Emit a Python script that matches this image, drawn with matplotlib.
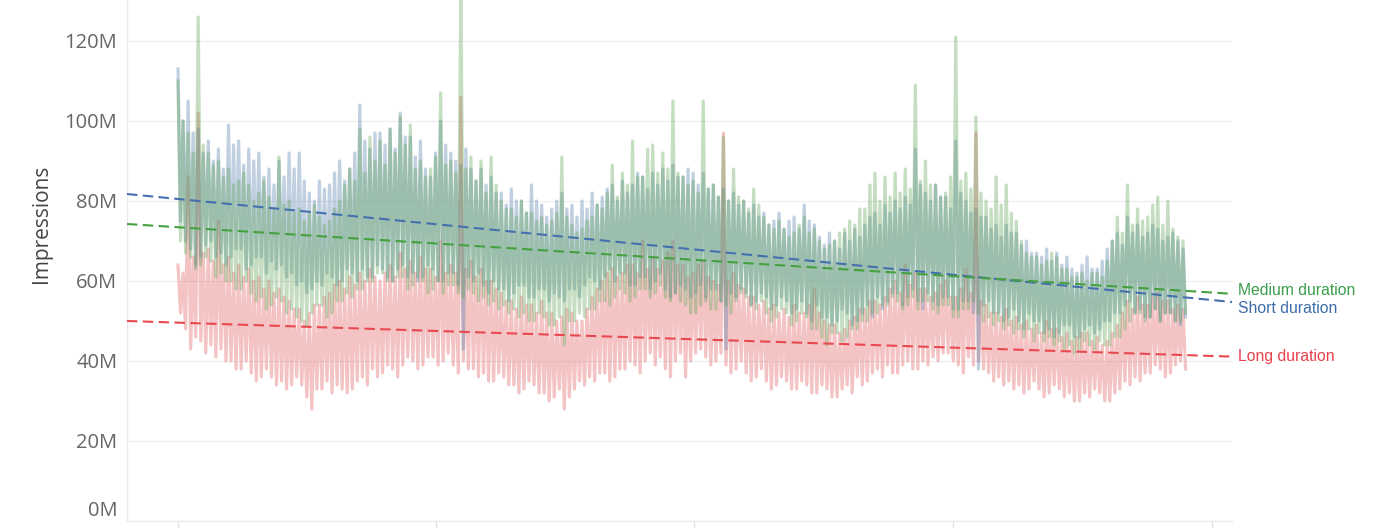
#!/usr/bin/env python3
"""
Impressions per ad duration group, with linear trend lines
"""

import numpy as np
import matplotlib.pyplot as plt
from matplotlib.transforms import ScaledTranslation

# impressions in millions, one peak and one trough per period
short_hi = [113, 100, 105, 97, 98, 92, 95, 90, 93, 88, 99, 94, 95, 89, 93, 90, 92, 86, 88, 84,
            90, 86, 92, 88, 92, 85, 82, 80, 85, 83, 84, 87, 90, 85, 88, 92, 104, 95, 93, 97,
            97, 94, 98, 93, 102, 96, 96, 91, 95, 88, 86, 92, 100, 94, 92, 90, 89, 93, 88, 85,
            88, 84, 86, 82, 82, 79, 83, 80, 80, 77, 84, 80, 79, 76, 78, 80, 82, 78, 79, 76,
            80, 78, 82, 79, 81, 83, 84, 80, 85, 82, 84, 87, 86, 83, 87, 84, 88, 85, 89, 86,
            86, 88, 87, 84, 87, 83, 84, 81, 83, 80, 82, 79, 80, 77, 79, 76, 77, 74, 75, 77,
            73, 75, 76, 73, 79, 75, 74, 71, 69, 72, 70, 68, 72, 70, 73, 71, 74, 76, 77, 74,
            79, 77, 80, 78, 81, 79, 93, 84, 82, 80, 84, 81, 81, 78, 95, 82, 80, 77, 78, 76,
            76, 73, 74, 71, 74, 72, 72, 69, 70, 67, 67, 66, 68, 65, 67, 64, 66, 63, 62, 64,
            66, 63, 63, 65, 68, 70, 72, 69, 76, 72, 74, 71, 72, 74, 73, 70, 71, 72, 70, 68]
short_lo = [75, 70, 68, 64, 66, 69, 70, 66, 67, 64, 66, 68, 68, 63, 64, 66, 66, 62, 65, 63,
            64, 61, 62, 59, 60, 57, 58, 60, 59, 62, 61, 59, 60, 63, 62, 60, 63, 61, 61, 64,
            63, 61, 60, 63, 64, 61, 62, 60, 61, 64, 63, 60, 60, 62, 62, 59, 43, 61, 60, 62,
            59, 57, 60, 58, 58, 55, 57, 59, 59, 56, 56, 58, 58, 55, 57, 56, 55, 58, 58, 56,
            59, 61, 60, 58, 61, 63, 60, 62, 62, 59, 59, 61, 61, 58, 60, 62, 58, 56, 57, 59,
            58, 56, 57, 59, 56, 58, 58, 55, 43, 57, 56, 58, 57, 54, 55, 57, 56, 53, 54, 56,
            55, 52, 53, 55, 52, 50, 54, 51, 51, 49, 50, 53, 52, 49, 50, 52, 54, 51, 56, 53,
            55, 57, 57, 54, 56, 58, 55, 53, 57, 55, 54, 56, 56, 53, 53, 55, 55, 52, 38, 54,
            55, 52, 52, 50, 51, 53, 50, 48, 52, 50, 50, 47, 48, 46, 47, 49, 49, 46, 46, 48,
            49, 47, 48, 50, 50, 52, 52, 54, 55, 52, 53, 51, 51, 53, 50, 52, 52, 50, 49, 51]

medium_hi = [110, 100, 97, 92, 126, 94, 92, 89, 90, 86, 88, 84, 85, 87, 84, 80, 82, 85, 81, 78,
             91, 79, 80, 77, 78, 75, 77, 79, 76, 74, 75, 78, 80, 84, 88, 85, 98, 87, 96, 90,
             95, 89, 98, 92, 101, 94, 99, 88, 90, 86, 88, 91, 107, 89, 90, 87, 133, 88, 91, 85,
             90, 82, 91, 84, 80, 78, 78, 76, 80, 77, 77, 75, 76, 74, 75, 77, 91, 76, 74, 72,
             73, 75, 76, 79, 78, 82, 89, 81, 87, 84, 95, 86, 86, 93, 94, 87, 92, 88, 105, 87,
             86, 84, 85, 82, 105, 83, 84, 81, 96, 80, 88, 81, 80, 78, 83, 79, 76, 74, 73, 75,
             73, 71, 72, 74, 76, 72, 73, 70, 68, 69, 70, 72, 73, 75, 74, 78, 78, 84, 87, 80,
             86, 81, 87, 82, 88, 83, 109, 85, 90, 84, 84, 81, 82, 86, 121, 85, 87, 83, 101, 82,
             80, 78, 86, 79, 84, 77, 75, 70, 67, 66, 66, 64, 65, 67, 66, 63, 63, 61, 61, 62,
             60, 62, 62, 61, 65, 70, 76, 72, 84, 74, 78, 75, 76, 79, 81, 74, 80, 73, 71, 70]
medium_lo = [70, 67, 66, 63, 64, 66, 65, 61, 62, 60, 60, 58, 58, 60, 57, 55, 56, 53, 54, 56,
             55, 52, 53, 51, 50, 49, 52, 54, 54, 51, 52, 55, 55, 57, 56, 58, 58, 60, 60, 62,
             62, 60, 60, 61, 61, 58, 59, 61, 60, 57, 58, 60, 57, 59, 59, 57, 56, 58, 57, 55,
             56, 54, 55, 53, 54, 52, 53, 51, 52, 50, 50, 52, 51, 49, 49, 51, 44, 50, 50, 52,
             51, 53, 53, 55, 55, 54, 56, 58, 57, 55, 56, 58, 58, 56, 57, 59, 56, 55, 57, 55,
             54, 52, 52, 54, 55, 53, 53, 55, 54, 52, 55, 57, 56, 54, 53, 55, 52, 50, 51, 53,
             52, 49, 50, 52, 51, 48, 48, 46, 44, 47, 47, 45, 46, 48, 48, 50, 50, 52, 52, 54,
             54, 56, 55, 53, 54, 56, 53, 55, 55, 53, 52, 54, 54, 51, 51, 53, 53, 55, 52, 50,
             51, 49, 50, 48, 49, 47, 48, 46, 48, 45, 47, 45, 46, 44, 45, 43, 44, 42, 43, 45,
             44, 43, 45, 44, 44, 46, 46, 48, 50, 52, 52, 50, 51, 53, 50, 52, 52, 50, 50, 52]

long_hi = [64, 62, 86, 66, 102, 67, 68, 65, 75, 64, 66, 62, 64, 61, 63, 60, 61, 58, 60, 57,
           58, 56, 55, 53, 53, 50, 52, 54, 54, 56, 57, 59, 60, 58, 61, 59, 62, 60, 63, 61,
           60, 62, 64, 61, 67, 63, 65, 62, 66, 63, 63, 61, 70, 62, 64, 62, 106, 63, 65, 61,
           63, 60, 60, 58, 57, 55, 55, 53, 56, 54, 54, 52, 55, 52, 52, 50, 51, 53, 52, 50,
           50, 53, 56, 58, 60, 62, 63, 61, 62, 64, 64, 62, 70, 63, 66, 63, 65, 67, 70, 64,
           64, 61, 62, 64, 65, 61, 60, 59, 97, 60, 62, 59, 58, 56, 56, 54, 55, 53, 54, 52,
           53, 51, 54, 52, 52, 54, 58, 52, 50, 49, 49, 47, 48, 50, 51, 53, 53, 55, 55, 54,
           56, 58, 60, 57, 64, 59, 62, 58, 58, 56, 57, 59, 60, 56, 56, 58, 63, 57, 97, 55,
           54, 52, 52, 51, 53, 50, 51, 49, 50, 48, 49, 47, 50, 48, 48, 46, 47, 45, 46, 47,
           47, 45, 46, 44, 45, 47, 49, 52, 55, 53, 56, 54, 54, 56, 57, 55, 55, 53, 54, 53]
long_lo = [52, 48, 43, 46, 45, 42, 44, 41, 43, 40, 40, 38, 38, 40, 37, 35, 36, 38, 36, 34,
           35, 33, 34, 36, 34, 31, 28, 33, 33, 35, 32, 34, 33, 32, 33, 35, 36, 34, 38, 36,
           37, 39, 38, 36, 39, 41, 40, 38, 39, 41, 41, 39, 40, 42, 39, 37, 40, 38, 38, 36,
           37, 35, 35, 37, 36, 34, 34, 32, 33, 35, 34, 32, 32, 30, 31, 33, 28, 31, 33, 35,
           34, 36, 35, 37, 37, 35, 36, 38, 38, 40, 39, 37, 40, 42, 39, 41, 38, 36, 40, 42,
           36, 40, 42, 43, 41, 39, 40, 42, 39, 37, 38, 40, 37, 35, 36, 38, 35, 33, 34, 36,
           35, 33, 33, 35, 34, 32, 32, 34, 33, 31, 31, 33, 34, 32, 36, 34, 35, 37, 38, 36,
           39, 37, 37, 39, 40, 38, 38, 40, 39, 41, 40, 42, 42, 40, 39, 37, 41, 39, 40, 38,
           37, 35, 36, 34, 35, 33, 34, 32, 33, 35, 33, 31, 32, 34, 33, 31, 32, 30, 30, 32,
           31, 33, 32, 30, 30, 32, 33, 35, 34, 36, 35, 37, 37, 39, 38, 36, 37, 39, 40, 38]

series_names = ["Long duration", "Short duration", "Medium duration"]
fill_colors = ["#e15759", "#4e79a7", "#59a14f"]
trend_colors = ["#e8484f", "#4470ad", "#45a03f"]
label_colors = ["#e8404a", "#3d6ea9", "#3a9d4c"]

# trend line values (M) at left and right edge of the plot
trend_start = [50.0, 81.75, 74.25]
trend_end = [41.1, 54.75, 56.8]

y_ticks = [0, 20, 40, 60, 80, 100, 120]


def zigzag(hi, lo):
    """Interleave peaks and troughs into one path"""
    ys = np.empty(2 * len(hi))
    ys[0::2] = hi
    ys[1::2] = lo
    xs = np.arange(len(ys)) / 2.0
    return xs, ys


def main():
    fig = plt.figure(figsize=(13.92, 5.28), dpi=100)
    ax = fig.add_axes([127 / 1392, 7 / 528, (1232 - 127) / 1392, 521 / 528])

    x_left, x_right = -10.1, 208.7
    ax.set_xlim(x_left, x_right)
    ax.set_ylim(0, 130.25)

    all_data = [(long_hi, long_lo), (short_hi, short_lo), (medium_hi, medium_lo)]
    for (hi, lo), color in zip(all_data, fill_colors):
        xs, ys = zigzag(hi, lo)
        ax.plot(xs, ys, color=color, alpha=0.35, linewidth=2.3,
                solid_joinstyle='round', zorder=2)

    # trend lines and their labels
    offsets = [(4.5, 0), (4.5, -4.5), (4.5, 2.5)]
    for i, name in enumerate(series_names):
        ln, = ax.plot([x_left, x_right], [trend_start[i], trend_end[i]],
                      color=trend_colors[i], linewidth=1.5, zorder=3, clip_on=False)
        ln.set_dashes((5, 2.6))
        ax.annotate(name, xy=(x_right, trend_end[i]), xytext=offsets[i],
                    textcoords='offset points', color=label_colors[i],
                    fontsize=11.3, family='Liberation Sans', va='center', ha='left',
                    annotation_clip=False)

    # axes styling
    ax.set_yticks(y_ticks)
    ax.set_yticklabels([f"{v}M" for v in y_ticks])
    ax.yaxis.grid(True, color="#f0f0f0", linewidth=1)
    ax.set_axisbelow(True)
    ax.tick_params(axis='y', length=0, pad=7, labelsize=14.5, labelcolor="#666666")
    for lab in ax.get_yticklabels():
        lab.set_family('Open Sans')
    first = ax.get_yticklabels()[0]
    first.set_transform(first.get_transform() + ScaledTranslation(0, 13 / 100, fig.dpi_scale_trans))

    ax.set_xticks([0, 51.1, 102.2, 153.5, 204.8])
    ax.set_xticklabels([])
    ax.tick_params(axis='x', length=6, color="#e0e0e0", width=1)

    for side in ['top', 'right']:
        ax.spines[side].set_visible(False)
    for side in ['left', 'bottom']:
        ax.spines[side].set_color("#ebebeb")
        ax.spines[side].set_linewidth(1)

    fig.text(42 / 1392, 1 - 224 / 528, "Impressions", rotation=90, ha='center', va='center',
             fontsize=15, family='Open Sans', color="#444444")

    fig.savefig("out.png", dpi=100)


if __name__ == "__main__":
    main()
